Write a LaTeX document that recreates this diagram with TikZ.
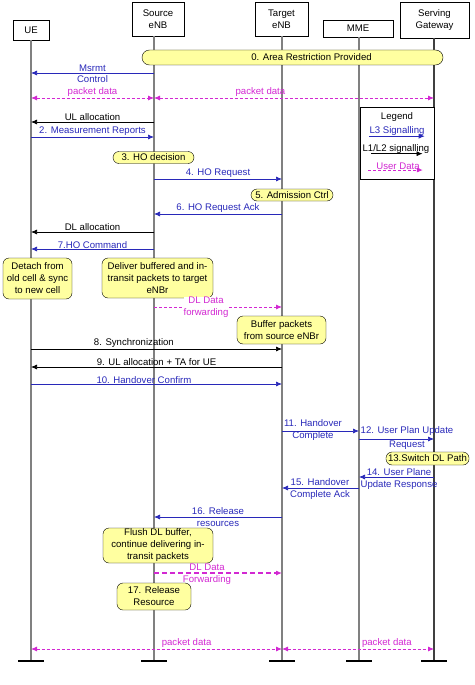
\documentclass[tikz,border=0pt]{standalone}
\usepackage{fontspec}
\setmainfont{Liberation Sans}
\usetikzlibrary{arrows.meta,positioning}
\definecolor{sigblue}{RGB}{40,40,185}
\definecolor{datamag}{RGB}{210,40,210}
\definecolor{noteyel}{RGB}{255,255,160}
\tikzset{>={Latex[length=6pt,width=5pt]}}

\begin{document}
\begin{tikzpicture}[x=1pt,y=-1pt,
		font=\fontsize{9.6}{12}\selectfont,
		head/.style={draw,fill=white,align=center,inner sep=0pt,line width=0.8pt},
		life/.style={draw=gray,line width=1.3pt},
		l3/.style={->,draw=sigblue,text=sigblue,line width=0.7pt},
		l12/.style={->,draw=black,line width=0.7pt},
		udata/.style={<->,draw=datamag,text=datamag,dash pattern=on 3pt off 2pt,line width=0.8pt},
		note/.style={draw,fill=noteyel,rounded corners=6pt,align=center,inner sep=0.5pt},
		pill/.style={draw,fill=noteyel,rounded corners=6pt,inner sep=0pt,minimum height=12pt},
		lbl/.style={inner sep=1pt},
		]
		\useasboundingbox (0,0) rectangle (474,685);
		% heads
		\node[head,minimum width=36pt,minimum height=20pt] (ueBox) at (31,30) {UE};
		\node[head,minimum width=52pt,minimum height=34pt] (srcBox) at (158,19) {Source\\eNB};
		\node[head,minimum width=53pt,minimum height=34pt] (tgtBox) at (281.5,19) {Target\\eNB};
		\node[head,minimum width=70pt,minimum height=17pt] (mmeBox) at (358,28.5) {MME};
		\node[head,minimum width=69pt,minimum height=36pt] (sgwBox) at (434.5,20) {Serving\\Gateway};
		\coordinate (ue) at (31,40);
		\coordinate (src) at (154,36);
		\coordinate (tgt) at (282,36);
		\coordinate (mme) at (359,37);
		\coordinate (sgw) at (434,38);
		% lifelines
		\foreach \n in {ue,src,tgt,mme}
		{
			\draw[life] (\n) -- (\n |- 0,661);
			\draw[line width=2pt] (\n |- 0,661) ++(-13,0) -- ++(26,0);
		};
		\draw[life,draw=gray!50!black] (sgw) -- (sgw |- 0,661);
		\draw[line width=2pt] (sgw |- 0,661) ++(-13,0) -- ++(26,0);
		
		\node[pill,minimum width=301pt,minimum height=15pt,rounded corners=7.5pt] (area) at (292.5,57.5) {\hspace*{38pt}0. Area Restriction Provided};
		\draw[l3] (src |- 0,73) -- node[lbl,above] {Msrmt} (ue |- 0,73);
		\draw[udata] (ue |- 0,98) -- node[lbl,above,align=center] {\textcolor{sigblue}{Control}\\packet data} (src |- 0,98);
		\draw[udata] (src |- 0,98) -- node[lbl,above,pos=0.38] {packet data} (sgw |- 0,98);
		\draw[l12] (src |- 0,122) -- node[lbl,above] {UL allocation} (ue |- 0,122);
		\draw[l3] (ue |- 0,137) -- node[lbl,above] {2. Measurement Reports} (src |- 0,137);
		\node[pill,minimum width=81pt] (hoDec) at (153.5,157.5) {3. HO decision};
		\draw[l3] (src |- 0,179) -- node[lbl,above] {4. HO Request} (tgt |- 0,179);
		\node[pill,minimum width=82pt] (admCtrl) at (292,195) {5. Admission Ctrl};
		\draw[l3] (tgt |- 0,214) -- node[lbl,above] {6. HO Request Ack} (src |- 0,214);
		\draw[l12] (src |- 0,232) -- node[lbl,above] {DL allocation} (ue |- 0,232);
		\draw[l3] (src |- 0,249) -- node[lbl,above,inner sep=0pt] {7.HO Command} (ue |- 0,249);
		\node[note,minimum width=69pt,minimum height=41pt] (detach) at (37.5,278.5) {Detach from\\old cell \& sync\\to new cell};
		\node[note,minimum width=111pt,minimum height=40pt] (deliver) at (157.5,278) {Deliver buffered and in-\\transit packets to target\\eNBr};
		\draw[udata,->] (src |- 0,307) -- (tgt |- 0,307);
		\node[text=datamag,fill=white,align=center,inner sep=0pt] (dlFwd) at (206,307.5) {DL Data\\forwarding};
		\node[note,minimum width=89pt,minimum height=28pt] (buffer) at (281.5,330) {Buffer packets\\from source eNBr};
		\draw[l12] (ue |- 0,349) -- node[lbl,above,pos=0.41] {8. Synchronization} (tgt |- 0,349);
		\draw[l12] (tgt |- 0,367) -- node[lbl,above] {9. UL allocation + TA for UE} (ue |- 0,367);
		\draw[l3] (ue |- 0,384) -- node[lbl,above,pos=0.45,inner sep=0pt] {10. Handover Confirm} (tgt |- 0,384);
		\draw[l3] (tgt |- 0,431) -- (mme |- 0,431);
		\node[text=sigblue,align=center] (hoComp) at (313,430) {11. Handover\\Complete};
		\draw[l3] (mme |- 0,439) -- (sgw |- 0,439);
		\node[text=sigblue,align=center] (upReq) at (407,438.5) {12. User Plan Update\\[2pt]Request};
		\node[pill,minimum width=83pt,minimum height=13pt] (switchPath) at (427.5,458.5) {13.Switch DL Path};
		\draw[l3] (sgw |- 0,477) -- (mme |- 0,477);
		\node[text=sigblue,align=center] (upResp) at (399,479) {14. User Plane\\Update Response};
		\draw[l3] (mme |- 0,488) -- (tgt |- 0,488);
		\node[text=sigblue,align=center] (hoAck) at (320,489) {15. Handover\\Complete Ack};
		\draw[l3] (tgt |- 0,517) -- (src |- 0,517);
		\node[text=sigblue,align=center] (relRes) at (218,517.5) {16. Release\\resources};
		\node[note,minimum width=110pt,minimum height=35pt] (flush) at (158,545.5) {Flush DL buffer,\\continue delivering in-\\transit packets};
		\draw[udata,->,dash pattern=on 5pt off 3pt,line width=1.1pt] (src |- 0,573) -- (tgt |- 0,573);
		\node[text=datamag,align=center] (dlFwdB) at (207,574.5) {DL Data\\Forwarding};
		\node[note,minimum width=74pt,minimum height=27pt] (release) at (154,596.5) {17. Release\\Resource};
		\draw[udata] (ue |- 0,649) -- node[lbl,above,pos=0.62] {packet data} (tgt |- 0,649);
		\draw[udata] (tgt |- 0,649) -- node[lbl,above,pos=0.69] {packet data} (sgw |- 0,649);
		% legend
		\node[draw,fill=white,minimum width=74pt,minimum height=72pt,anchor=north west,line width=0.8pt] (legend) at (360,107) {};
		\node (lgTitle) at (397,117) {Legend};
		\node[text=sigblue,inner sep=0pt] (lgA) at (397,131.5) {L3 Signalling};
		\draw[l3] (lgA.south west) -- (lgA.south east);
		\node[inner sep=0pt] (lgB) at (396,149) {L1/L2 signalling};
		\draw[l12] ([xshift=9pt]lgB.south west) -- ([xshift=-7pt]lgB.south east);
		\node[text=datamag,inner sep=0pt] (lgC) at (398,166.5) {User Data};
		\draw[udata,->] ([xshift=-8pt]lgC.south west) -- ([xshift=3pt]lgC.south east);
	\end{tikzpicture}
\end{document}
